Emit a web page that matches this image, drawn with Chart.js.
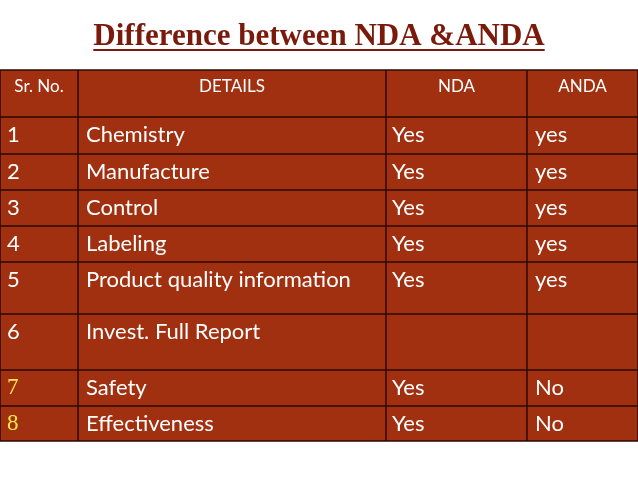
<!DOCTYPE html>
<html>
<head>
<meta charset="utf-8">
<script src="https://cdn.jsdelivr.net/npm/chart.js@4/dist/chart.umd.min.js"></script>
<style>
  html, body { margin: 0; padding: 0; background: #fff; }
  #wrap { width: 638px; height: 478px; position: relative; }
</style>
</head>
<body>
<div id="wrap"><canvas id="tbl"></canvas></div>
<script>
var title = 'Difference between NDA &ANDA';
var headers = ['Sr. No.', 'DETAILS', 'NDA', 'ANDA'];
var srNo = ['1', '2', '3', '4', '5', '6', '7', '8'];
var details = ['Chemistry', 'Manufacture', 'Control', 'Labeling', 'Product quality information', 'Invest. Full Report', 'Safety', 'Effectiveness'];
var nda = ['Yes', 'Yes', 'Yes', 'Yes', 'Yes', '', 'Yes', 'Yes'];
var anda = ['yes', 'yes', 'yes', 'yes', 'yes', '', 'No', 'No'];

// layout in scale units (scale = page pixels)
var colEdges = [0, 78, 386, 527, 638];
var rowEdges = [70, 117, 154, 190, 226, 262, 314, 370, 406, 441];

var tablePlugin = {
  id: 'tablePlugin',
  afterDraw: function (chart) {
    var ctx = chart.ctx;
    var xs = chart.scales.x, ys = chart.scales.y;
    var px = function (v) { return xs.getPixelForValue(v); };
    var py = function (v) { return ys.getPixelForValue(v); };
    ctx.save();
    // title
    ctx.fillStyle = '#7a1a0c';
    ctx.font = 'bold 31px "Liberation Serif"';
    ctx.textAlign = 'center';
    ctx.textBaseline = 'alphabetic';
    ctx.fillText(title, px(319), py(45));
    var tw = ctx.measureText(title).width;
    ctx.fillRect(px(319) - tw / 2, py(49), tw, 2);
    // cells
    ctx.fillStyle = '#a0300f';
    ctx.fillRect(px(colEdges[0]), py(rowEdges[0]), px(colEdges[4]) - px(colEdges[0]), py(rowEdges[9]) - py(rowEdges[0]));
    ctx.strokeStyle = '#2a0800';
    ctx.lineWidth = 1.5;
    rowEdges.forEach(function (r) {
      ctx.beginPath(); ctx.moveTo(px(colEdges[0]), py(r)); ctx.lineTo(px(colEdges[4]), py(r)); ctx.stroke();
    });
    colEdges.forEach(function (c) {
      ctx.beginPath(); ctx.moveTo(px(c), py(rowEdges[0])); ctx.lineTo(px(c), py(rowEdges[9])); ctx.stroke();
    });
    // header
    ctx.fillStyle = '#ffffff';
    ctx.font = '17px Lato';
    ctx.textBaseline = 'middle';
    headers.forEach(function (h, i) {
      ctx.textAlign = 'center';
      ctx.fillText(h, (px(colEdges[i]) + px(colEdges[i + 1])) / 2, py(87));
    });
    // body
    ctx.textAlign = 'left';
    for (var r = 0; r < srNo.length; r++) {
      var yMid = py(rowEdges[r + 1] + 18);
      if (r >= 6) {
        ctx.fillStyle = '#ffe94a';
        ctx.font = '23px "Liberation Serif"';
      } else {
        ctx.fillStyle = '#ffffff';
        ctx.font = '22px Lato';
      }
      ctx.fillText(srNo[r], px(colEdges[0]) + 7, yMid);
      ctx.fillStyle = '#ffffff';
      ctx.font = '22px Lato';
      ctx.fillText(details[r], px(colEdges[1]) + 8, yMid);
      ctx.fillText(nda[r], px(colEdges[2]) + 6, yMid);
      ctx.fillText(anda[r], px(colEdges[3]) + 8, yMid);
    }
    ctx.restore();
  }
};

new Chart(document.getElementById('tbl').getContext('2d'), {
  type: 'scatter',
  data: { datasets: [{ data: [], showLine: false }] },
  options: {
    responsive: true,
    maintainAspectRatio: false,
    animation: false,
    layout: { padding: 0 },
    scales: {
      x: { type: 'linear', min: 0, max: 638, display: false },
      y: { type: 'linear', min: 0, max: 478, reverse: true, display: false }
    },
    plugins: { legend: { display: false }, tooltip: { enabled: false } }
  },
  plugins: [tablePlugin]
});
</script>
</body>
</html>
